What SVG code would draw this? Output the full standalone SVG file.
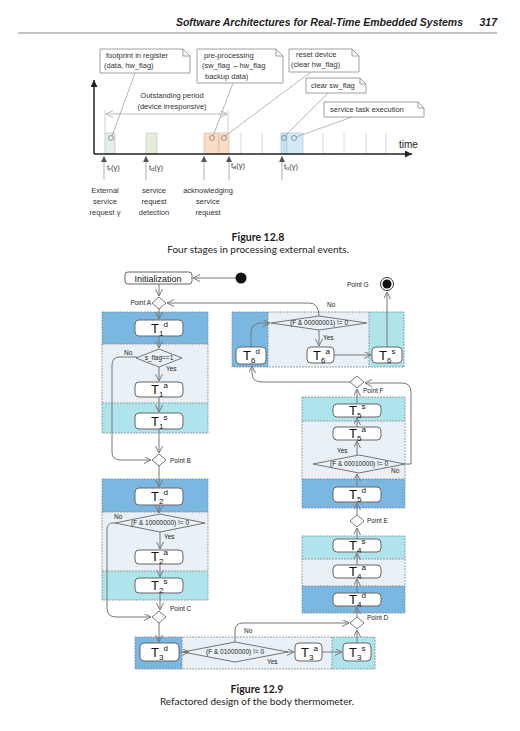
<svg xmlns="http://www.w3.org/2000/svg" width="520" height="731" viewBox="0 0 520 731">
<style>
.hd{font-family:"Liberation Sans",Arial,sans-serif;font-weight:bold;font-style:italic;font-size:10.5px;fill:#222}
.cap{font-family:"Lato","Open Sans",sans-serif;font-size:10px;fill:#222}
.capb{font-family:"Lato","Open Sans",sans-serif;font-size:10.5px;font-weight:bold;fill:#222}
.t8{font-family:"Liberation Sans",Arial,sans-serif;font-size:7.5px;fill:#333}
.note{fill:#fff;stroke:#888;stroke-width:0.8}
.lead{stroke:#999;stroke-width:0.7;fill:none}
.grid{stroke:#ccc;stroke-width:0.8}
.ax{stroke:#222;stroke-width:1.5}
.cir{fill:none;stroke:#777;stroke-width:0.7}
.dk{fill:#7ab8e2}
.lt{fill:#eaf1f6}
.cy{fill:#b0e4ec}
.ctr{fill:none;stroke:#7d8b96;stroke-width:0.8;stroke-dasharray:2 1}
.nb{fill:#fff;stroke:#666;stroke-width:1}
.pt{fill:#fff;stroke:#666;stroke-width:0.9}
.dec{fill:none;stroke:#666;stroke-width:0.9}
.cn{fill:none;stroke:#777;stroke-width:1;marker-end:url(#ah)}
.fl{font-family:"Liberation Sans",Arial,sans-serif;font-size:6.5px;fill:#222}
.tn{font-family:"Liberation Sans",Arial,sans-serif;font-size:13px;fill:#111}
.sm{font-size:8px}
</style>
<defs>
<marker id="ah" markerWidth="9" markerHeight="9" refX="7" refY="3.5" orient="auto" markerUnits="userSpaceOnUse">
<path d="M0,0 L7,3.5 L0,7" fill="none" stroke="#777" stroke-width="1"/>
</marker>
<marker id="ahk" markerWidth="9" markerHeight="9" refX="7" refY="3.5" orient="auto" markerUnits="userSpaceOnUse">
<path d="M0,0 L7,3.5 L0,7 Z" fill="#222"/>
</marker>
<marker id="ahu" markerWidth="8" markerHeight="8" refX="6" refY="3" orient="auto" markerUnits="userSpaceOnUse">
<path d="M0,0 L6,3 L0,6 Z" fill="#555"/>
</marker>
<marker id="aho" markerWidth="9" markerHeight="9" refX="7" refY="3.5" orient="auto-start-reverse" markerUnits="userSpaceOnUse">
<path d="M0,0 L7,3.5 L0,7" fill="none" stroke="#aaa" stroke-width="0.8"/>
</marker>
</defs>
<rect width="520" height="731" fill="#fff"/>

<!-- header -->
<text class="hd" x="463" y="26" text-anchor="end">Software Architectures for Real-Time Embedded Systems</text>
<text class="hd" x="497" y="26" text-anchor="end">317</text>
<line x1="18" y1="33" x2="497" y2="33" stroke="#888" stroke-width="1"/>

<!-- Figure 12.8 -->
<g id="fig128">
<g id="bars">
<line class="grid" x1="241" y1="133" x2="241" y2="154"/>
<line class="grid" x1="262" y1="133" x2="262" y2="154"/>
<line class="grid" x1="323" y1="133" x2="323" y2="154"/>
<line class="grid" x1="344" y1="133" x2="344" y2="154"/>
<line class="grid" x1="366" y1="133" x2="366" y2="154"/>
<line class="grid" x1="386" y1="133" x2="386" y2="154"/>
<rect x="105" y="133" width="10" height="21" fill="#e6ece8" stroke="#b8c4bc" stroke-width="0.7"/>
<rect x="146" y="133" width="11" height="21" fill="#e3edd8" stroke="#c0d0b0" stroke-width="0.7"/>
<rect x="204" y="133" width="15" height="21" fill="#f8dcc6" stroke="#e2bb9c" stroke-width="0.7"/>
<rect x="219" y="133" width="10" height="21" fill="#f8dcc6" stroke="#e2bb9c" stroke-width="0.7"/>
<rect x="281" y="133" width="6" height="21" fill="#c3e0ee" stroke="#a8cde0" stroke-width="0.7"/>
<rect x="287" y="133" width="16" height="21" fill="#d3e9f3" stroke="#a8cde0" stroke-width="0.7"/>
<circle class="cir" cx="111" cy="138" r="2.5"/>
<circle class="cir" cx="212" cy="138" r="2.5"/>
<circle class="cir" cx="224" cy="138" r="2.5"/>
<circle class="cir" cx="284" cy="138" r="2.5"/>
<circle class="cir" cx="294" cy="138" r="2.5"/>
</g>
<g id="axes">
<line class="ax" x1="94" y1="154" x2="94" y2="80" marker-end="url(#ahk)"/>
<line class="ax" x1="94" y1="154" x2="412" y2="154" marker-end="url(#ahk)"/>
<text x="399" y="148" font-family="Liberation Sans,Arial,sans-serif" font-size="10" fill="#222">time</text>
</g>
<g id="period">
<line x1="105" y1="110" x2="105" y2="133" stroke="#bbb" stroke-width="0.7"/>
<line x1="228" y1="110" x2="228" y2="133" stroke="#bbb" stroke-width="0.7"/>
<line x1="106" y1="114" x2="227" y2="114" stroke="#aaa" stroke-width="0.8" marker-start="url(#aho)" marker-end="url(#aho)"/>
<text class="t8" x="172" y="98" text-anchor="middle">Outstanding period</text>
<text class="t8" x="172" y="109" text-anchor="middle">(device irresponsive)</text>
</g>
<g id="notes">
<line class="lead" x1="135" y1="73" x2="112" y2="136"/>
<line class="lead" x1="233" y1="83" x2="213" y2="136"/>
<line class="lead" x1="311" y1="72" x2="225" y2="136"/>
<line class="lead" x1="328" y1="93" x2="285" y2="136"/>
<line class="lead" x1="352" y1="117" x2="296" y2="137"/>
<path class="note" d="M100,49 H183 L190,56 V73 H100 Z M183,49 V56 H190"/>
<text class="t8" x="106" y="58">footprint in register</text>
<text class="t8" x="104" y="68">(data, hw_flag)</text>
<path class="note" d="M197,49 H276 L283,56 V83 H197 Z M276,49 V56 H283"/>
<text class="t8" x="204" y="58">pre-processing</text>
<text class="t8" x="202" y="68">(sw_flag ←hw_flag</text>
<text class="t8" x="205" y="79">backup data)</text>
<path class="note" d="M289,49 H352 L359,56 V72 H289 Z M352,49 V56 H359"/>
<text class="t8" x="296" y="57">reset device</text>
<text class="t8" x="291" y="67">(clear hw_flag)</text>
<path class="note" d="M306,78 H360 L366,84 V93 H306 Z M360,78 V84 H366"/>
<text class="t8" x="311" y="88">clear sw_flag</text>
<path class="note" d="M324,102 H418 L424,108 V117 H324 Z M418,102 V108 H424"/>
<text class="t8" x="330" y="112">service task execution</text>
</g>
<g id="times">
<line x1="104" y1="180" x2="104" y2="156" stroke="#999" stroke-width="0.8" marker-end="url(#ahu)"/>
<line x1="146" y1="180" x2="146" y2="156" stroke="#999" stroke-width="0.8" marker-end="url(#ahu)"/>
<line x1="204" y1="180" x2="204" y2="156" stroke="#999" stroke-width="0.8" marker-end="url(#ahu)"/>
<line x1="229" y1="180" x2="229" y2="156" stroke="#999" stroke-width="0.8" marker-end="url(#ahu)"/>
<line x1="282" y1="180" x2="282" y2="156" stroke="#999" stroke-width="0.8" marker-end="url(#ahu)"/>
<text class="t8" x="107" y="170">t<tspan font-size="5.5" dy="1">r</tspan><tspan dy="-1">(γ)</tspan></text>
<text class="t8" x="149" y="170">t<tspan font-size="5.5" dy="1">d</tspan><tspan dy="-1">(γ)</tspan></text>
<text class="t8" x="231" y="168">t<tspan font-size="5.5" dy="1">a</tspan><tspan dy="-1">(γ)</tspan></text>
<text class="t8" x="284" y="169">t<tspan font-size="5.5" dy="1">u</tspan><tspan dy="-1">(γ)</tspan></text>
<text class="t8" x="105" y="193" text-anchor="middle">External</text>
<text class="t8" x="105" y="204" text-anchor="middle">service</text>
<text class="t8" x="105" y="215" text-anchor="middle">request γ</text>
<text class="t8" x="154" y="193" text-anchor="middle">service</text>
<text class="t8" x="154" y="204" text-anchor="middle">request</text>
<text class="t8" x="154" y="215" text-anchor="middle">detection</text>
<text class="t8" x="208" y="193" text-anchor="middle">acknowledging</text>
<text class="t8" x="208" y="204" text-anchor="middle">service</text>
<text class="t8" x="208" y="215" text-anchor="middle">request</text>
</g>
<text class="capb" x="258" y="241" text-anchor="middle">Figure 12.8</text>
<text class="cap" x="258" y="253" text-anchor="middle">Four stages in processing external events.</text>
</g>

<!-- Figure 12.9 -->
<g id="containers">
<rect class="dk" x="102" y="312" width="106" height="32"/>
<rect class="lt" x="102" y="344" width="106" height="59"/>
<rect class="cy" x="102" y="403" width="106" height="30"/>
<rect class="ctr" x="102" y="312" width="106" height="121"/>
<line class="ctr" x1="102" y1="344" x2="208" y2="344"/>
<line class="ctr" x1="102" y1="403" x2="208" y2="403"/>
<rect class="dk" x="102" y="479" width="106" height="33"/>
<rect class="lt" x="102" y="512" width="106" height="59"/>
<rect class="cy" x="102" y="571" width="106" height="29"/>
<rect class="ctr" x="102" y="479" width="106" height="121"/>
<line class="ctr" x1="102" y1="512" x2="208" y2="512"/>
<line class="ctr" x1="102" y1="571" x2="208" y2="571"/>
<rect class="dk" x="135" y="637" width="47" height="32"/>
<rect class="lt" x="182" y="637" width="150" height="32"/>
<rect class="cy" x="332" y="637" width="43" height="32"/>
<rect class="ctr" x="135" y="637" width="240" height="32"/>
<line class="ctr" x1="182" y1="637" x2="182" y2="669"/>
<line class="ctr" x1="332" y1="637" x2="332" y2="669"/>
<rect class="cy" x="302" y="536" width="103" height="23"/>
<rect class="lt" x="302" y="559" width="103" height="27"/>
<rect class="dk" x="302" y="586" width="103" height="27"/>
<rect class="ctr" x="302" y="536" width="103" height="77"/>
<line class="ctr" x1="302" y1="559" x2="405" y2="559"/>
<line class="ctr" x1="302" y1="586" x2="405" y2="586"/>
<rect class="cy" x="302" y="397" width="103" height="24"/>
<rect class="lt" x="302" y="421" width="103" height="58"/>
<rect class="dk" x="302" y="479" width="103" height="29"/>
<rect class="ctr" x="302" y="397" width="103" height="111"/>
<line class="ctr" x1="302" y1="421" x2="405" y2="421"/>
<line class="ctr" x1="302" y1="479" x2="405" y2="479"/>
<rect class="dk" x="232" y="312" width="36" height="55"/>
<rect class="lt" x="268" y="312" width="101" height="55"/>
<rect class="cy" x="369" y="312" width="35" height="55"/>
<rect class="ctr" x="232" y="312" width="172" height="55"/>
<line class="ctr" x1="268" y1="312" x2="268" y2="367"/>
<line class="ctr" x1="369" y1="312" x2="369" y2="367"/>
</g>

<g id="connectors">
<line class="cn" x1="236" y1="278" x2="193" y2="278"/>
<line class="cn" x1="159" y1="283" x2="159" y2="296"/>
<line class="cn" x1="159" y1="309" x2="159" y2="319"/>
<line class="cn" x1="159" y1="336" x2="159" y2="348"/>
<line class="cn" x1="159" y1="367" x2="159" y2="381"/>
<line class="cn" x1="159" y1="397" x2="159" y2="412"/>
<line class="cn" x1="159" y1="429" x2="159" y2="453"/>
<path class="cn" d="M137,357 H120 Q112,357 112,365 V452 Q112,460 120,460 H151"/>
<line class="cn" x1="159" y1="466" x2="159" y2="487"/>
<line class="cn" x1="159" y1="505" x2="159" y2="513"/>
<line class="cn" x1="160" y1="532" x2="160" y2="549"/>
<line class="cn" x1="160" y1="564" x2="160" y2="577"/>
<line class="cn" x1="160" y1="593" x2="160" y2="610"/>
<path class="cn" d="M115,523 H113 Q107,523 107,530 V608 Q107,617 116,617 H151"/>
<line class="cn" x1="159" y1="623" x2="159" y2="642"/>
<line class="cn" x1="179" y1="652" x2="189" y2="652"/>
<line class="cn" x1="287" y1="652" x2="294" y2="652"/>
<line class="cn" x1="322" y1="652" x2="342" y2="652"/>
<path class="cn" d="M235,642 V631 Q235,623 243,623 H349"/>
<line class="cn" x1="357" y1="643" x2="357" y2="630"/>
<line class="cn" x1="357" y1="617" x2="357" y2="607"/>
<line class="cn" x1="357" y1="593" x2="357" y2="579"/>
<line class="cn" x1="357" y1="565" x2="357" y2="553"/>
<line class="cn" x1="357" y1="539" x2="357" y2="528"/>
<line class="cn" x1="357" y1="515" x2="357" y2="503"/>
<line class="cn" x1="357" y1="487" x2="357" y2="474"/>
<line class="cn" x1="357" y1="455" x2="357" y2="441"/>
<line class="cn" x1="357" y1="427" x2="357" y2="418"/>
<line class="cn" x1="357" y1="404" x2="357" y2="389"/>
<path class="cn" d="M405,464 H411 V392 Q411,383 402,383 H365"/>
<path class="cn" d="M350,382 H262 Q252,382 252,373 V366"/>
<path class="cn" d="M251,347 V333 Q251,323 261,323 H270"/>
<line class="cn" x1="319" y1="330" x2="319" y2="346"/>
<line class="cn" x1="334" y1="355" x2="371" y2="355"/>
<line class="cn" x1="387" y1="347" x2="387" y2="292"/>
<path class="cn" d="M319,316 Q319,303 309,303 H167"/>
</g>

<g id="start"><circle cx="241" cy="278" r="5.5" fill="#111"/></g>
<g id="pointG">
<circle cx="387" cy="284" r="6.5" fill="#fff" stroke="#333" stroke-width="1"/>
<circle cx="387" cy="284" r="4.5" fill="#111"/>
<text class="fl" x="347" y="287">Point G</text>
</g>
<g id="init">
<rect class="nb" x="125" y="272" width="67" height="12" rx="3"/>
<text x="158" y="281.5" text-anchor="middle" font-family="Liberation Sans,Arial,sans-serif" font-size="9" fill="#111">Initialization</text>
</g>
<g id="pointA"><path class="pt" d="M159,297 L166,303 L159,309 L152,303 Z"/><text class="fl" x="151" y="305" text-anchor="end">Point A</text></g>
<g id="pointB"><path class="pt" d="M159,454 L166,460 L159,466 L152,460 Z"/><text class="fl" x="170" y="463">Point B</text></g>
<g id="pointC"><path class="pt" d="M159,611 L166,617 L159,623 L152,617 Z"/><text class="fl" x="170" y="611">Point C</text></g>
<g id="pointD"><path class="pt" d="M357,617 L364,623 L357,629 L350,623 Z"/><text class="fl" x="367" y="620">Point D</text></g>
<g id="pointE"><path class="pt" d="M357,515 L364,521 L357,527 L350,521 Z"/><text class="fl" x="367" y="523">Point E</text></g>
<g id="pointF"><path class="pt" d="M357,376 L364,382 L357,388 L350,382 Z"/><text class="fl" x="363" y="393">Point F</text></g>

<g id="dec1">
<path class="dec" d="M159,349 L182,358 L159,367 L136,358 Z"/>
<text class="fl" x="159" y="360" text-anchor="middle">s_flag==1</text>
<text class="fl" x="124" y="355">No</text>
<text class="fl" x="166" y="371">Yes</text>
</g>
<g id="dec2">
<path class="dec" d="M160,514 L205,523 L160,532 L115,523 Z"/>
<text class="fl" x="160" y="525" text-anchor="middle">(F &amp; 10000000) != 0</text>
<text class="fl" x="114" y="519">No</text>
<text class="fl" x="164" y="539">Yes</text>
</g>
<g id="dec3">
<path class="dec" d="M235,642 L288,652 L235,662 L183,652 Z"/>
<text class="fl" x="235" y="654" text-anchor="middle">(F &amp; 01000000) != 0</text>
<text class="fl" x="244" y="633">No</text>
<text class="fl" x="267" y="664">Yes</text>
</g>
<g id="dec5">
<path class="dec" d="M359,455 L405,464 L359,473 L313,464 Z"/>
<text class="fl" x="359" y="466" text-anchor="middle">(F &amp; 00010000) != 0</text>
<text class="fl" x="337" y="453">Yes</text>
<text class="fl" x="391" y="473">No</text>
</g>
<g id="dec6">
<path class="dec" d="M319,316 L367,323 L319,330 L271,323 Z"/>
<text class="fl" x="319" y="325" text-anchor="middle">(F &amp; 00000001) != 0</text>
<text class="fl" x="327" y="307">No</text>
<text class="fl" x="323" y="340">Yes</text>
</g>

<g id="T1d"><rect class="nb" x="135" y="320" width="48" height="16" rx="4"/><text class="tn" x="151" y="333">T<tspan class="sm" dy="3">1</tspan><tspan class="sm" dy="-9">d</tspan></text></g>
<g id="T1a"><rect class="nb" x="135" y="382" width="48" height="15" rx="4"/><text class="tn" x="151" y="394">T<tspan class="sm" dy="3">1</tspan><tspan class="sm" dy="-9">a</tspan></text></g>
<g id="T1s"><rect class="nb" x="135" y="413" width="48" height="16" rx="4"/><text class="tn" x="151" y="426">T<tspan class="sm" dy="3">1</tspan><tspan class="sm" dy="-9">s</tspan></text></g>
<g id="T2d"><rect class="nb" x="135" y="488" width="48" height="17" rx="4"/><text class="tn" x="151" y="501">T<tspan class="sm" dy="3">2</tspan><tspan class="sm" dy="-9">d</tspan></text></g>
<g id="T2a"><rect class="nb" x="135" y="550" width="48" height="14" rx="4"/><text class="tn" x="151" y="561">T<tspan class="sm" dy="3">2</tspan><tspan class="sm" dy="-9">a</tspan></text></g>
<g id="T2s"><rect class="nb" x="135" y="578" width="48" height="15" rx="4"/><text class="tn" x="151" y="590">T<tspan class="sm" dy="3">2</tspan><tspan class="sm" dy="-9">s</tspan></text></g>
<g id="T3d"><rect class="nb" x="140" y="643" width="39" height="18" rx="4"/><text class="tn" x="151" y="657">T<tspan class="sm" dy="3">3</tspan><tspan class="sm" dy="-9">d</tspan></text></g>
<g id="T3a"><rect class="nb" x="295" y="643" width="27" height="18" rx="4"/><text class="tn" x="301" y="657">T<tspan class="sm" dy="3">3</tspan><tspan class="sm" dy="-9">a</tspan></text></g>
<g id="T3s"><rect class="nb" x="343" y="643" width="28" height="18" rx="4"/><text class="tn" x="349" y="657">T<tspan class="sm" dy="3">3</tspan><tspan class="sm" dy="-9">s</tspan></text></g>
<g id="T4d"><rect class="nb" x="333" y="593" width="48" height="13" rx="4"/><text class="tn" x="349" y="604">T<tspan class="sm" dy="3">4</tspan><tspan class="sm" dy="-9">d</tspan></text></g>
<g id="T4a"><rect class="nb" x="333" y="565" width="48" height="13" rx="4"/><text class="tn" x="349" y="576">T<tspan class="sm" dy="3">4</tspan><tspan class="sm" dy="-9">a</tspan></text></g>
<g id="T4s"><rect class="nb" x="333" y="539" width="48" height="13" rx="4"/><text class="tn" x="349" y="550">T<tspan class="sm" dy="3">4</tspan><tspan class="sm" dy="-9">s</tspan></text></g>
<g id="T5d"><rect class="nb" x="333" y="487" width="48" height="15" rx="4"/><text class="tn" x="349" y="499">T<tspan class="sm" dy="3">5</tspan><tspan class="sm" dy="-9">d</tspan></text></g>
<g id="T5a"><rect class="nb" x="333" y="427" width="48" height="13" rx="4"/><text class="tn" x="349" y="438">T<tspan class="sm" dy="3">5</tspan><tspan class="sm" dy="-9">a</tspan></text></g>
<g id="T5s"><rect class="nb" x="333" y="404" width="48" height="13" rx="4"/><text class="tn" x="349" y="415">T<tspan class="sm" dy="3">5</tspan><tspan class="sm" dy="-9">s</tspan></text></g>
<g id="T6d"><rect class="nb" x="236" y="347" width="30" height="17" rx="4"/><text class="tn" x="243" y="360">T<tspan class="sm" dy="3">6</tspan><tspan class="sm" dy="-9">d</tspan></text></g>
<g id="T6a"><rect class="nb" x="307" y="347" width="27" height="16" rx="4"/><text class="tn" x="313" y="360">T<tspan class="sm" dy="3">6</tspan><tspan class="sm" dy="-9">a</tspan></text></g>
<g id="T6s"><rect class="nb" x="372" y="347" width="30" height="16" rx="4"/><text class="tn" x="379" y="360">T<tspan class="sm" dy="3">6</tspan><tspan class="sm" dy="-9">s</tspan></text></g>

<text class="capb" x="257" y="693" text-anchor="middle">Figure 12.9</text>
<text class="cap" x="257" y="705" text-anchor="middle">Refactored design of the body thermometer.</text>
</svg>
